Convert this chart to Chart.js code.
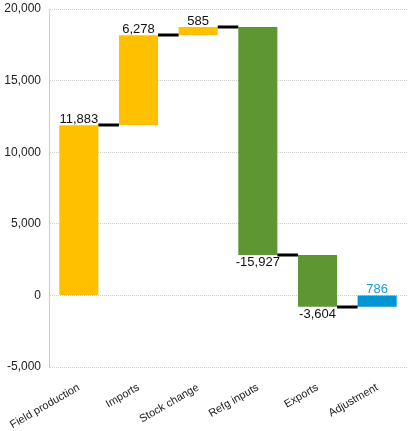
<!DOCTYPE html>
<html>
<head>
<meta charset="utf-8">
<script src="https://cdn.jsdelivr.net/npm/chart.js@4"></script>
<style>
  html, body { margin: 0; padding: 0; background: #fff; }
  #wrap { width: 415px; height: 431px; }
</style>
</head>
<body>
<div id="wrap"><canvas id="chart" width="415" height="431"></canvas></div>
<script>
// === Data ===
const categories = ["Field production", "Imports", "Stock change", "Refg inputs", "Exports", "Adjustment"];
const changes = [11883, 6278, 585, -15927, -3604, 786];
const barColors = ["#FFC000", "#FFC000", "#FFC000", "#5E9732", "#5E9732", "#0096D6"];
const labelColors = ["#111", "#111", "#111", "#111", "#111", "#1A9AD8"];
const yTicks = [-5000, 0, 5000, 10000, 15000, 20000];

// running totals -> floating bar ranges
const ranges = [];
const levels = [];
let total = 0;
changes.forEach(v => {
  ranges.push([total, total + v]);
  total += v;
  levels.push(total);
});

const fmt = v => v.toLocaleString("en-US");

// connectors between bars + value labels
const waterfallExtras = {
  id: "waterfallExtras",
  afterDatasetsDraw(chart) {
    const ctx = chart.ctx;
    const meta = chart.getDatasetMeta(0);
    const y = chart.scales.y;
    ctx.save();
    // black connector segments
    ctx.strokeStyle = "#000";
    ctx.lineWidth = 3;
    for (let i = 0; i < meta.data.length - 1; i++) {
      const a = meta.data[i], b = meta.data[i + 1];
      const py = Math.round(y.getPixelForValue(levels[i]));
      ctx.beginPath();
      ctx.moveTo(a.x + a.width / 2, py);
      ctx.lineTo(b.x - b.width / 2, py);
      ctx.stroke();
    }
    // value labels
    ctx.font = "13px 'Liberation Sans', Arial, sans-serif";
    ctx.textAlign = "center";
    meta.data.forEach((bar, i) => {
      const v = changes[i];
      const top = y.getPixelForValue(Math.max(...ranges[i]));
      const bottom = y.getPixelForValue(Math.min(...ranges[i]));
      ctx.fillStyle = labelColors[i];
      if (v >= 0) {
        ctx.textBaseline = "bottom";
        ctx.fillText(fmt(v), bar.x, top + 1);
      } else {
        ctx.textBaseline = "top";
        ctx.fillText(fmt(v), bar.x, bottom + 1);
      }
    });
    ctx.restore();
  }
};

new Chart(document.getElementById("chart"), {
  type: "bar",
  data: {
    labels: categories,
    datasets: [{
      data: ranges,
      backgroundColor: barColors,
      borderWidth: 0,
      barPercentage: 0.655,
      categoryPercentage: 1
    }]
  },
  options: {
    responsive: false,
    animation: false,
    layout: { padding: { top: 9, right: 8, left: 0, bottom: 0 } },
    plugins: {
      legend: { display: false },
      tooltip: { enabled: false }
    },
    scales: {
      x: {
        grid: { display: false, drawTicks: false },
        border: { display: false },
        ticks: {
          color: "#222",
          font: { family: "'Liberation Sans', Arial, sans-serif", size: 11 },
          minRotation: 30,
          maxRotation: 30,
          padding: 14
        },
        afterFit(s) {
          s.height = 64;
          s.paddingLeft = 0;
          s.paddingRight = 0;
        }
      },
      y: {
        min: yTicks[0],
        max: yTicks[yTicks.length - 1],
        afterBuildTicks(s) { s.ticks = yTicks.map(v => ({ value: v })); },
        grid: { color: "#cfcfcf", drawTicks: false, lineWidth: 1 },
        border: { display: true, color: "#cfcfcf", dash: [1, 1] },
        ticks: {
          color: "#222",
          font: { family: "'Liberation Sans', Arial, sans-serif", size: 12 },
          padding: 8,
          callback: v => fmt(v)
        },
        afterFit(s) {
          s.width = 49;
          s.paddingTop = 0;
          s.paddingBottom = 0;
        }
      }
    }
  },
  plugins: [waterfallExtras]
});
</script>
</body>
</html>
